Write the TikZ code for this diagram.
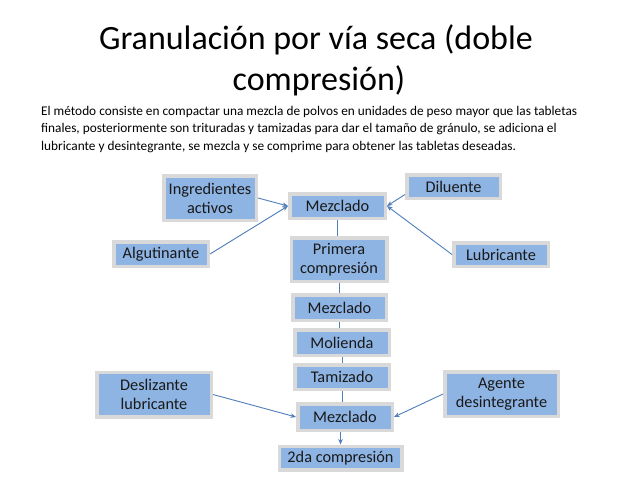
\documentclass[tikz,border=0pt]{standalone}
\usepackage{fontspec}
\setmainfont{Carlito}
\usetikzlibrary{arrows.meta,calc}
\definecolor{boxblue}{HTML}{8EB4E3}
\definecolor{boxgray}{HTML}{D9D9D9}
\definecolor{linkblue}{HTML}{4F7EBB}
\begin{document}
\begin{tikzpicture}[x=1pt,y=-1pt,
  stepbox/.style={draw=boxgray,line width=3.5pt,fill=boxblue,inner sep=0pt,
    align=center,font=\fontsize{16.3}{19}\selectfont,text=black!90},
  link/.style={draw=linkblue,line width=0.9pt},
  arrowlink/.style={link,-{Stealth[length=5.5pt,width=4.5pt]}},
  titletext/.style={inner sep=0pt,font=\fontsize{34}{41}\selectfont,anchor=base},
  bodytext/.style={inner sep=0pt,font=\fontsize{13.3}{17}\selectfont,anchor=base west}]
\useasboundingbox (0,0) rectangle (638,479);
\fill[white] (0,0) rectangle (638,479);

\node[titletext] (t1) at (316,49) {Granulación por vía seca (doble};
\node[titletext] (t2) at (319,90) {compresión)};

\node[bodytext] (p1) at (41,115) {El método consiste en compactar una mezcla de polvos en unidades de peso mayor que las tabletas};
\node[bodytext] (p2) at (41,132.5) {finales, posteriormente son trituradas y tamizadas para dar el tamaño de gránulo, se adiciona el};
\node[bodytext] (p3) at (41,150) {lubricante y desintegrante, se mezcla y se comprime para obtener las tabletas deseadas.};

\node[stepbox,minimum width=92.5pt,minimum height=44.5pt] (ing) at (210,198) {Ingredientes\\activos};
\node[stepbox,minimum width=95.5pt,minimum height=24.5pt] (mez1) at (337.5,206) {Mezclado};
\node[stepbox,minimum width=93.5pt,minimum height=23.5pt] (dil) at (453.5,186.5) {Diluente};
\node[stepbox,minimum width=94.5pt,minimum height=24.5pt] (alg) at (161,254) {Algutinante};
\node[stepbox,minimum width=95.5pt,minimum height=43.5pt] (prim) at (339,259.5) {Primera\\compresión};
\node[stepbox,minimum width=94.5pt,minimum height=23.5pt] (lub) at (501,254.5) {Lubricante};
\node[stepbox,minimum width=93.5pt,minimum height=25.5pt] (mez2) at (339.5,307.5) {Mezclado};
\node[stepbox,minimum width=94.5pt,minimum height=25.5pt] (mol) at (342,342.5) {Molienda};
\node[stepbox,minimum width=94.5pt,minimum height=24.5pt] (tam) at (342,377) {Tamizado};
\node[stepbox,minimum width=114.5pt,minimum height=44.5pt] (des) at (154,394.5) {Deslizante\\lubricante};
\node[stepbox,minimum width=113.5pt,minimum height=44.5pt] (age) at (501.5,394) {Agente\\desintegrante};
\node[stepbox,minimum width=94.5pt,minimum height=26.5pt] (mez3) at (345,417) {Mezclado};
\node[stepbox,minimum width=122.5pt,minimum height=23.5pt] (seg) at (340.5,458) {2da compresión};

\draw[arrowlink] (ing.east) -- (mez1.west);
\draw[arrowlink] (alg.east) -- (mez1.west);
\draw[arrowlink] ([yshift=-8pt]dil.west) -- (mez1.east);
\draw[arrowlink] (lub.west) -- (mez1.east);
\draw[link] (mez1.south) -- (mez1.south |- prim.north);
\draw[link] (prim.south) -- (prim.south |- mez2.north);
\draw[link] (mez2.south) -- (mez2.south |- mol.north);
\draw[link] (mol.south) -- (mol.south |- tam.north);
\draw[link] (tam.south) -- (tam.south |- mez3.north);
\draw[arrowlink] (des.east) -- (mez3.west);
\draw[arrowlink] (age.west) -- (mez3.east);
\draw[arrowlink] (seg.north |- mez3.south) -- (seg.north);
\end{tikzpicture}
\end{document}
